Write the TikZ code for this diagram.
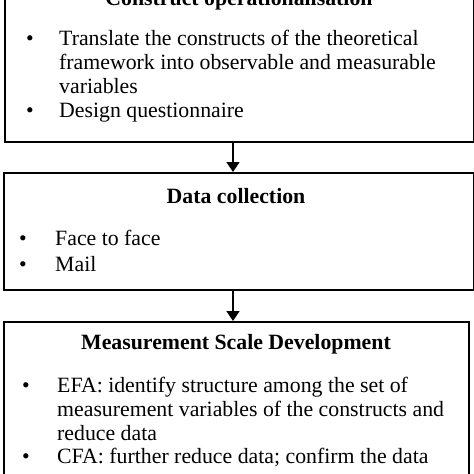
\documentclass[tikz,border=0pt]{standalone}
\usepackage{fontspec}
\setmainfont{Liberation Serif}
\usetikzlibrary{arrows.meta}

\tikzset{
  stagebox/.style={draw, line width=1.6pt, inner sep=0pt, anchor=north west},
  stagetitle/.style={font=\fontsize{21.8}{24}\selectfont\bfseries, anchor=base, inner sep=0pt},
  itemtext/.style={font=\fontsize{21.8}{24}\selectfont, anchor=base west, inner sep=0pt, align=left},
  itemdot/.style={font=\fontsize{21.8}{24}\selectfont, anchor=base, inner sep=0pt},
  flow/.style={-{Triangle[length=10pt,width=13pt]}, line width=1.6pt},
}

\begin{document}
\begin{tikzpicture}[x=1pt,y=1pt]
\useasboundingbox (0,0) rectangle (474,-474);
\clip (0,0) rectangle (474,-474);
% boxes
\node[stagebox, minimum width=469pt, minimum height=161pt] (construct) at (4,20) {};
\node[stagebox, minimum width=470pt, minimum height=117pt] (collection) at (3,-172) {};
\node[stagebox, minimum width=465pt, minimum height=200pt] (scale) at (3,-321) {};
% first stage (multi-line items sit on their last baseline)
\node[stagetitle] (constructtitle) at (239,-5) {Construct operationalisation};
\node[itemdot] (constructdota) at (30,-45) {\textbullet};
\node[itemtext] (constructa) at (59,-93) {Translate the constructs of the theoretical\\framework into observable and measurable\\variables};
\node[itemdot] (constructdotb) at (30,-117) {\textbullet};
\node[itemtext] (constructb) at (59,-117) {Design questionnaire};
% second stage
\node[stagetitle] (collectiontitle) at (236,-203) {Data collection};
\node[itemdot] (collectiondota) at (23,-245) {\textbullet};
\node[itemtext] (collectiona) at (55,-245) {Face to face};
\node[itemdot] (collectiondotb) at (23,-271) {\textbullet};
\node[itemtext] (collectionb) at (55,-271) {Mail};
% third stage
\node[stagetitle] (scaletitle) at (236,-349) {Measurement Scale Development};
\node[itemdot] (scaledota) at (26,-392) {\textbullet};
\node[itemtext] (scalea) at (57,-440) {EFA: identify structure among the set of\\measurement variables of the constructs and\\reduce data};
\node[itemdot] (scaledotb) at (26,-463) {\textbullet};
\node[itemtext] (scaleb) at (57,-463) {CFA: further reduce data; confirm the data};
% arrows
\draw[flow] (construct.south -| 233,0) -- (collection.north -| 233,0);
\draw[flow] (collection.south -| 233,0) -- (scale.north -| 233,0);
\end{tikzpicture}
\end{document}
